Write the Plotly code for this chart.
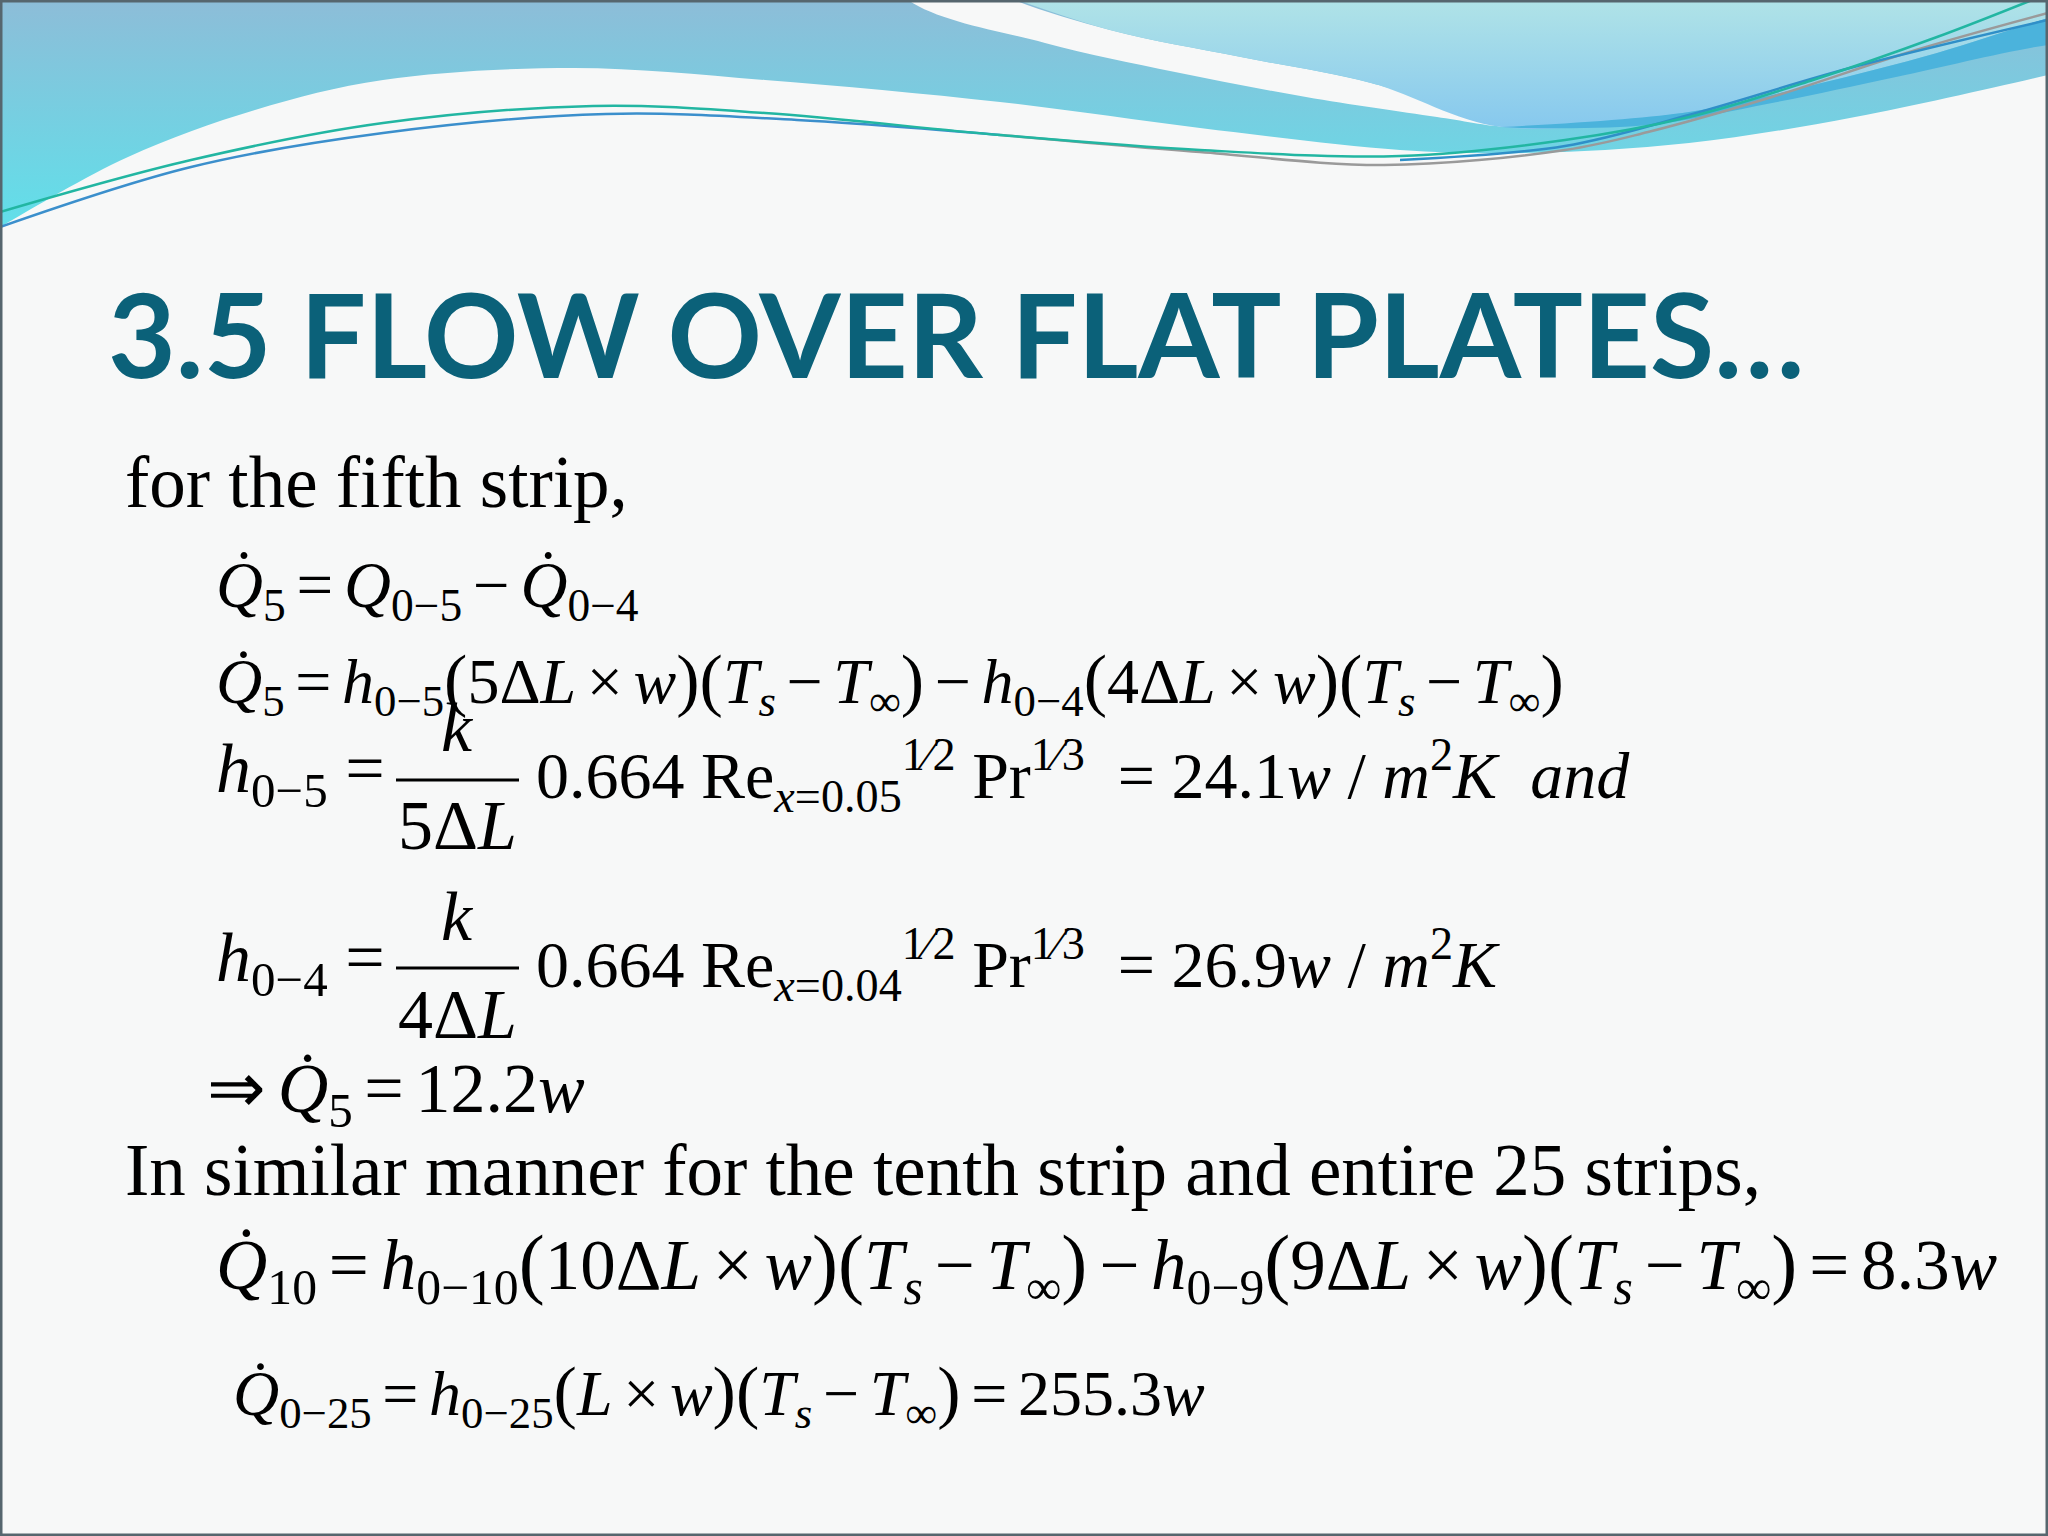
import plotly.graph_objects as go

W, H = 2048, 1536

# slide text
title = "3.5 FLOW OVER FLAT PLATES…"
intro = ["for the fifth strip,", "In similar manner for the tenth strip and entire 25 strips,"]
strip_n = [5, 4]
strip_x = [0.05, 0.04]
h_strip = [24.1, 26.9]
q_fifth = 12.2
q_tenth = 8.3
q_total = 255.3

# header wave outlines, slide pixels
base_x = [-60, 2110, 2110, 2048, 1855, 1689, 1524, 1400, 1200, 1000, 765, 574, 383, 255, 128, 0, -60]
base_y = [-60, -60, 60, 75, 117, 143, 153, 150, 128, 102, 80, 68, 80, 110, 157, 227, 262]
gap_x = [905, 990, 1110, 1241, 1371, 1502, 1437, 1306, 1175, 1045, 908, 860]
gap_y = [-60, -10, 30, 57, 83, 126, 117, 97, 72, 43, 0, -60]
right_x = [990, 1110, 1241, 1371, 1502, 1689, 1813, 1937, 2048, 2110, 2110, 940]
right_y = [-10, 30, 57, 83, 127, 112, 85, 53, 18, 0, -60, -60]
band_x = [1502, 1689, 1813, 1937, 2048, 2110, 2110, 2048, 1896, 1772, 1648, 1520]
band_y = [127, 112, 85, 53, 18, 0, 40, 45, 77, 103, 125, 128]
green_x = [0, 191, 383, 593, 765, 1000, 1200, 1400, 1565, 1689, 1813, 1937, 2032]
green_y = [212, 160, 123, 106, 113, 135, 150, 156, 140, 117, 80, 37, 0]
blue_x = [0, 191, 383, 606, 797, 1000]
blue_y = [227, 167, 133, 114, 120, 135]
gray_x = [1000, 1200, 1384, 1565, 1648, 1772, 1916, 2048]
gray_y = [135, 152, 165, 150, 132, 97, 50, 13]
thin_x = [1400, 1565, 1689, 1850, 2048]
thin_y = [160, 146, 115, 68, 20]

SERIF = "Liberation Serif"
BG = "#f7f8f8"
TS = "\u2006"  # narrow space, equations are set tight

fig = go.Figure()


def poly(x, y, top, bottom, y0, y1):
    fig.add_trace(go.Scatter(
        x=x, y=y, mode="lines", fill="toself", line=dict(width=0, shape="spline", smoothing=1),
        fillgradient=dict(type="vertical", colorscale=[[0, top], [1, bottom]], start=y0, stop=y1),
        hoverinfo="skip", showlegend=False,
    ))


poly(base_x, base_y, "#8dbdd8", "#60e0ea", 0, 230)
fig.add_trace(go.Scatter(x=gap_x, y=gap_y, mode="lines", fill="toself", fillcolor=BG,
                         line=dict(width=0, shape="spline"), hoverinfo="skip", showlegend=False))
poly(right_x, right_y, "#b0e3e7", "#86c8ee", 0, 130)
fig.add_trace(go.Scatter(x=band_x, y=band_y, mode="lines", fill="toself", fillcolor="#4bb3dc",
                         line=dict(width=0, shape="spline"), hoverinfo="skip", showlegend=False))
for lx, ly, col in [(blue_x, blue_y, "#3b8fcc"), (gray_x, gray_y, "#9a9a9a"),
                    (thin_x, thin_y, "#2f8fc8"), (green_x, green_y, "#22b6a2")]:
    fig.add_trace(go.Scatter(x=lx, y=ly, mode="lines", line=dict(color=col, width=2.5, shape="spline"),
                             hoverinfo="skip", showlegend=False))

ann = []


def put(text, x, base, size, anchor="left", family=SERIF, color="black"):
    ann.append(dict(text=text, x=x, y=base - 0.33 * size, xref="x", yref="y", xanchor=anchor,
                    yanchor="middle", showarrow=False, borderpad=0,
                    font=dict(family=family, size=size, color=color)))


def op(sym):
    return f"{TS}{sym}{TS}"


def Qd(sub):
    return f"<i>Q\u0307</i><sub>{sub}</sub>"


def h(sub):
    return f"<i>h</i><sub>{sub}</sub>"


def par(s, size):
    b = int(size * 1.1)
    return f"<span style='font-size:{b}px'>(</span>{s}<span style='font-size:{b}px'>)</span>"


def tdiff(size):
    return par(f"<i>T</i><sub><i>s</i></sub>{op('−')}<i>T</i><sub>∞</sub>", size)


def area(n, size):
    return par(f"{n}Δ<i>L</i>{op('×')}<i>w</i>", size)


put(f"<b>{title}</b>", 107, 372, 117, family="Lato", color="#0b6179")
put(intro[0], 124, 507, 73)

put(f"{Qd(5)}{op('=')}<i>Q</i><sub>0−5</sub>{op('−')}{Qd('0−4')}", 215, 611, 65)
s = 64
put(f"{Qd(5)}{op('=')}{h('0−5')}{area(5, s)}{tdiff(s)}{op('−')}"
    f"{h('0−4')}{area(4, s)}{tdiff(s)}", 215, 705, s)

frac_base = [797, 986]
for i in range(2):
    b = frac_base[i]
    n = strip_n[i]
    put(f"{h(f'0−{n}')} =", 215, b, 70)
    put("<i>k</i>", 457, b - 46, 70, anchor="center")
    put(f"{n}Δ<i>L</i>", 457, b + 52, 70, anchor="center")
    tail = "  <i>and</i>" if i == 0 else ""
    put(f"0.664 Re<sub><i>x</i>={strip_x[i]}</sub><sup>1⁄2</sup> Pr<sup>1⁄3</sup>  = "
        f"{h_strip[i]}<i>w</i> / <i>m</i><sup>2</sup><i>K</i>{tail}", 535, b, 66)

put(f"⇒{TS}{Qd(5)}{op('=')}{q_fifth}<i>w</i>", 206, 1117, 70)
put(intro[1], 124, 1195, 73)

s6 = 71
put(f"{Qd(10)}{op('=')}{h('0−10')}{area(10, s6)}{tdiff(s6)}{op('−')}"
    f"{h('0−9')}{area(9, s6)}{tdiff(s6)}{op('=')}{q_tenth}<i>w</i>", 215, 1290, s6)
s7 = 64
put(f"{Qd('0−25')}{op('=')}{h('0−25')}{par(f'<i>L</i>{op(chr(215))}<i>w</i>', s7)}{tdiff(s7)}"
    f"{op('=')}{q_total}<i>w</i>", 232, 1417, s7)

shapes = [
    dict(type="line", xref="x", yref="y", x0=396, x1=519, y0=780, y1=780, line=dict(color="black", width=3)),
    dict(type="line", xref="x", yref="y", x0=396, x1=519, y0=968, y1=968, line=dict(color="black", width=3)),
    dict(type="rect", xref="x", yref="y", x0=1, x1=W - 1, y0=1, y1=H - 1,
         line=dict(color="#56666e", width=3)),
]

fig.update_layout(
    width=W, height=H, margin=dict(l=0, r=0, t=0, b=0),
    paper_bgcolor=BG, plot_bgcolor=BG,
    xaxis=dict(range=[0, W], visible=False, fixedrange=True),
    yaxis=dict(range=[H, 0], visible=False, fixedrange=True),
    annotations=ann, shapes=shapes, showlegend=False,
)
fig.write_html("out.html", config={"displayModeBar": False},
               post_script="document.body.style.margin='0';")
